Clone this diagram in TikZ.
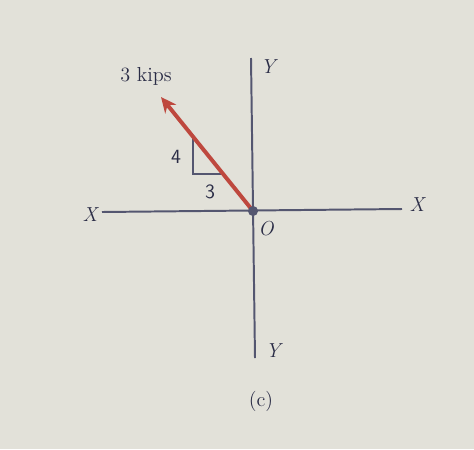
\documentclass[tikz,border=0pt]{standalone}
\usetikzlibrary{arrows.meta,positioning}
\definecolor{paper}{RGB}{226,225,217}
\definecolor{axisgray}{RGB}{84,86,112}
\definecolor{forcered}{RGB}{190,72,62}
\definecolor{inkblue}{RGB}{42,44,70}
\tikzset{
  axis/.style={draw=axisgray, line width=1.4pt},
  slope/.style={draw=axisgray, line width=0.9pt},
  force/.style={draw=forcered, line width=2.8pt, -{Stealth[length=11pt,width=10pt]}},
  lbl/.style={text=inkblue, font=\Large\itshape, inner sep=1pt},
  num/.style={text=inkblue, font=\Large\sffamily, inner sep=1pt},
}
\begin{document}
\begin{tikzpicture}[x=0.025cm, y=-0.025cm]
  \fill[paper] (0,0) rectangle (474,449);
  \useasboundingbox (0,0) rectangle (474,449);

  % axis ends
  \coordinate (O)  at (253,211);
  \coordinate (xl) at (102,212);
  \coordinate (xr) at (402,209);
  \coordinate (yt) at (251,58);
  \coordinate (yb) at (255,358);
  \coordinate (tip) at (161,97);

  % slope triangle
  \coordinate (s1) at (193,137);
  \coordinate (s2) at (193,174);
  \coordinate (s3) at (223,174);

  % labels
  \node[lbl] (xlab1) at (90,215)  {X};
  \node[lbl] (xlab2) at (417,205) {X};
  \node[lbl] (ylab1) at (268,67)  {Y};
  \node[lbl] (ylab2) at (273,351) {Y};
  \node[lbl] (olab)  at (266,229) {O};
  \node[text=inkblue, font=\Large, inner sep=1pt] (load) at (146,76) {3 kips};
  \node[num] (four)  at (176,157) {4};
  \node[num] (three) at (210,192) {3};
  \node[text=inkblue, font=\Large, inner sep=1pt] (cap) at (261,401) {(c)};

  %%%%% lines %%%%%
  \draw[axis] (xl) -- (xr);
  \draw[axis] (yt) -- (yb);
  \draw[slope] (s1) -- (s2) -- (s3);
  \draw[force] (O) -- (tip);
  \fill[axisgray] (O) circle (3.6pt);

\end{tikzpicture}
\end{document}
